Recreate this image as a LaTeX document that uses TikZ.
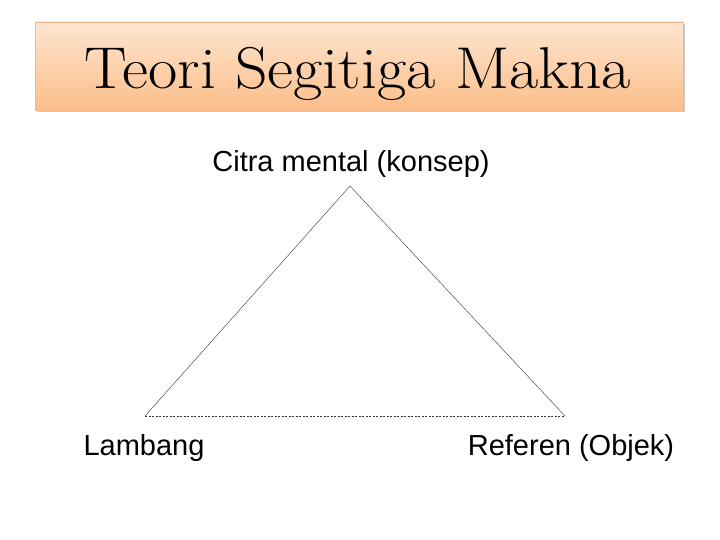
\documentclass[tikz,border=0pt]{standalone}
\usepackage{fontspec}
\setsansfont{Liberation Sans}
\usetikzlibrary{shadows}
\definecolor{jeruktua}{HTML}{FBBE8A}
\definecolor{jerukmuda}{HTML}{FEE5D0}
\definecolor{tepi}{HTML}{F5B788}
\tikzset{
  label/.style={font=\sffamily\fontsize{29}{33}\selectfont,anchor=base,inner sep=0pt},
  sisi/.style={line width=0.4pt,color=black!80},
}
\begin{document}
\begin{tikzpicture}[x=1pt,y=-1pt]
\useasboundingbox[fill=white] (0,0) rectangle (720,540);
% kotak judul
\node (judul) at (359,66) [minimum width=648pt,minimum height=88pt,draw=tepi,line width=0.6pt,
  top color=jerukmuda,bottom color=jeruktua,
  drop shadow={shadow xshift=1.5pt,shadow yshift=-2.5pt,opacity=.35,fill=black!60}] {};
\node (teks) at (358,89) [anchor=base,inner sep=0pt,font=\rmfamily\fontsize{59}{66}\selectfont]
  {\scalebox{1.08}[1]{Teori Segitiga Makna}};
% segitiga
\coordinate (puncak) at (350,186);
\coordinate (kiri) at (145,416);
\coordinate (kanan) at (565,416);
\draw[sisi] (kiri) -- (puncak) -- (kanan);
\draw[sisi,dash pattern=on 2pt off 1.5pt] (kiri) -- (kanan);
\node (konsep) at (351,172) [label] {Citra mental (konsep)};
\node (lambang) at (144,455) [label] {Lambang};
\node (referen) at (571,455) [label] {Referen (Objek)};
\end{tikzpicture}
\end{document}
